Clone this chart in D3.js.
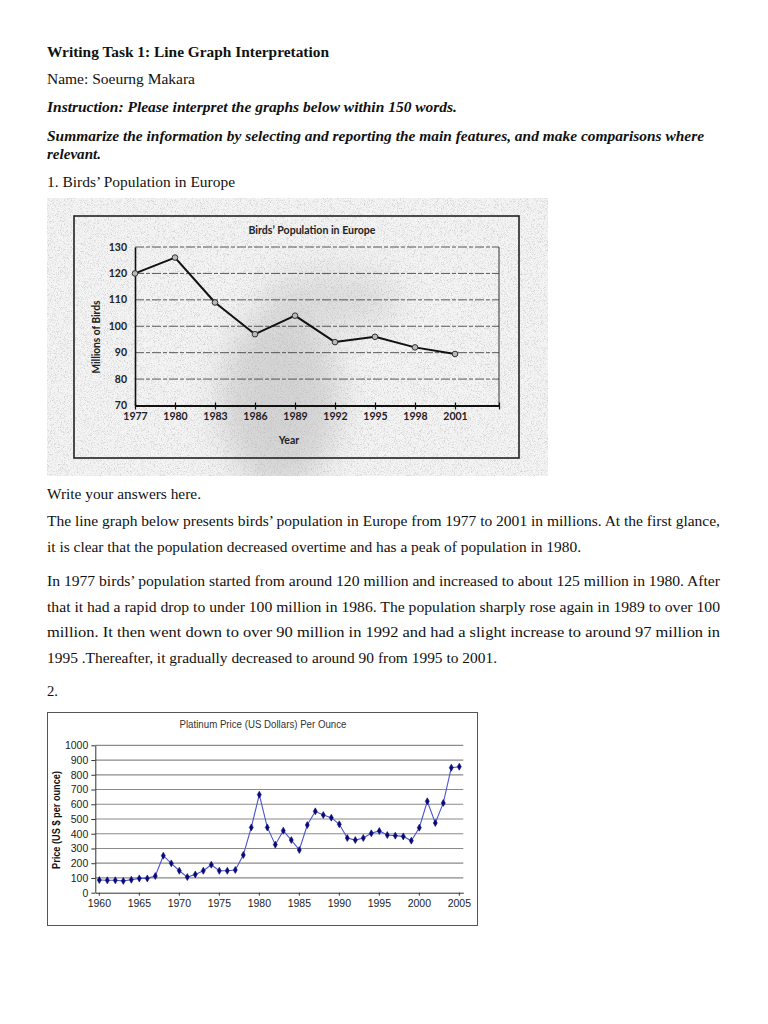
<!DOCTYPE html>
<html>
<head>
<meta charset="utf-8">
<script src="https://cdn.jsdelivr.net/npm/d3@7"></script>
<style>
  html, body { margin: 0; padding: 0; background: #fff; }
  svg { display: block; }
</style>
</head>
<body>
<div id="page"></div>
<script>
// chart 1 : birds
const birdYears  = [ 1977, 1980, 1983, 1986, 1989, 1992, 1995, 1998, 2001 ];
const birdValues = [ 120, 126, 109, 97, 104, 94, 96, 92, 89.5 ];
const birdTicks  = [ 70, 80, 90, 100, 110, 120, 130 ];

// chart 2 : platinum
const platYears = [ 1960, 1961, 1962, 1963, 1964, 1965, 1966, 1967, 1968, 1969,
                    1970, 1971, 1972, 1973, 1974, 1975, 1976, 1977, 1978, 1979,
                    1980, 1981, 1982, 1983, 1984, 1985, 1986, 1987, 1988, 1989,
                    1990, 1991, 1992, 1993, 1994, 1995, 1996, 1997, 1998, 1999,
                    2000, 2001, 2002, 2003, 2004, 2005 ];
const platPrices = [ 86, 84, 84, 80, 88, 97, 97, 113, 251, 199,
                     149, 106, 124, 149, 190, 149, 149, 154, 256, 443,
                     665, 443, 326, 421, 357, 290, 459, 552, 527, 509,
                     464, 371, 357, 371, 403, 419, 391, 387, 382, 353,
                     441, 620, 473, 609, 848, 855 ];
const platTicks  = [ 0, 100, 200, 300, 400, 500, 600, 700, 800, 900, 1000 ];
const platLabels = [ 1960, 1965, 1970, 1975, 1980, 1985, 1990, 1995, 2000, 2005 ];

const width = 768, height = 1024;

const svg = d3.select( "#page" )
  .append( "svg" )
    .attr( "width", width )
    .attr( "height", height )
    .attr( "viewBox", `0 0 ${ width } ${ height }` );

svg.append( "rect" ).attr( "width", width ).attr( "height", height ).attr( "fill", "#fff" );

// ---- document text ----
const serif = "'Liberation Serif', 'Times New Roman', serif";
const lines = [
  { t: "Writing Task 1: Line Graph Interpretation", y: 57, w: 282, b: true },
  { t: "Name: Soeurng Makara", y: 84, w: 148 },
  { t: "Instruction: Please interpret the graphs below within 150 words.", y: 112, w: 410, b: true, i: true },
  { t: "Summarize the information by selecting and reporting the main features, and make comparisons where", y: 141, w: 657, b: true, i: true },
  { t: "relevant.", y: 159, w: 54, b: true, i: true },
  { t: "1. Birds\u2019 Population in Europe", y: 187, w: 188 },
  { t: "Write your answers here.", y: 499, w: 154 },
  { t: "The line graph below presents birds\u2019 population in Europe from 1977 to 2001 in millions. At the first glance,", y: 526, w: 673 },
  { t: "it is clear that the population decreased overtime and has a peak of population in 1980.", y: 552, w: 534 },
  { t: "In 1977 birds\u2019 population started from around 120 million and increased to about 125 million in 1980. After", y: 586, w: 673 },
  { t: "that it had a rapid drop to under 100 million in 1986. The population sharply rose again in 1989 to over 100", y: 612, w: 673 },
  { t: "million. It then went down to over 90 million in 1992 and had a slight increase to around 97 million in", y: 637, w: 673 },
  { t: "1995 .Thereafter, it gradually decreased to around 90 from 1995 to 2001.", y: 663, w: 450 },
  { t: "2.", y: 696, w: 11 }
];

svg.append( "g" )
  .selectAll( "text" )
  .data( lines )
  .join( "text" )
    .attr( "x", 47 )
    .attr( "y", d => d.y )
    .attr( "font-family", serif )
    .attr( "font-size", 15.5 )
    .attr( "font-weight", d => d.b ? "bold" : "normal" )
    .attr( "font-style", d => d.i ? "italic" : "normal" )
    .attr( "fill", "#111" )
    .attr( "textLength", d => d.w )
    .attr( "lengthAdjust", "spacingAndGlyphs" )
    .text( d => d.t );

// ---- chart 1: scanned look ----
const defs = svg.append( "defs" );
const grain = defs.append( "filter" )
  .attr( "id", "grain" ).attr( "x", 0 ).attr( "y", 0 ).attr( "width", "100%" ).attr( "height", "100%" );
grain.append( "feTurbulence" )
  .attr( "type", "fractalNoise" ).attr( "baseFrequency", 1.3 ).attr( "numOctaves", 2 ).attr( "seed", 4 );
grain.append( "feColorMatrix" )
  .attr( "type", "matrix" )
  .attr( "values", "0 0 0 0 0.4  0 0 0 0 0.4  0 0 0 0 0.4  0 0 0 2.4 -1.15" );

defs.append( "filter" ).attr( "id", "smudge" )
  .attr( "x", "-50%" ).attr( "y", "-50%" ).attr( "width", "200%" ).attr( "height", "200%" )
  .append( "feGaussianBlur" ).attr( "stdDeviation", 16 );

defs.append( "clipPath" ).attr( "id", "scanclip" )
  .append( "rect" ).attr( "x", 47 ).attr( "y", 198 ).attr( "width", 501 ).attr( "height", 278 );

const scan = svg.append( "g" ).attr( "clip-path", "url(#scanclip)" );
scan.append( "rect" )
  .attr( "x", 47 ).attr( "y", 198 ).attr( "width", 501 ).attr( "height", 278 )
  .attr( "fill", "#f4f4f4" );
scan.append( "ellipse" )
  .attr( "cx", 280 ).attr( "cy", 400 ).attr( "rx", 60 ).attr( "ry", 90 )
  .attr( "fill", "#b8b8b8" ).attr( "opacity", 0.5 ).attr( "filter", "url(#smudge)" );
scan.append( "ellipse" )
  .attr( "cx", 330 ).attr( "cy", 300 ).attr( "rx", 70 ).attr( "ry", 30 )
  .attr( "fill", "#c4c4c4" ).attr( "opacity", 0.45 ).attr( "filter", "url(#smudge)" );
scan.append( "rect" )
  .attr( "x", 47 ).attr( "y", 198 ).attr( "width", 501 ).attr( "height", 278 )
  .attr( "filter", "url(#grain)" ).attr( "opacity", 0.6 );

// outer frame of chart 1
svg.append( "rect" )
  .attr( "x", 74 ).attr( "y", 216 ).attr( "width", 445 ).attr( "height", 242 )
  .attr( "fill", "none" ).attr( "stroke", "#222" ).attr( "stroke-width", 1.6 );

const c1 = { left: 135, right: 499, top: 247, bottom: 405.5 };
const sans1 = "Lato, 'Open Sans', sans-serif";

const x1 = d3.scaleLinear()
  .domain( [ 1977, 2004.3 ] )
  .range( [ c1.left, c1.right ] );

const y1 = d3.scaleLinear()
  .domain( [ 70, 130 ] )
  .range( [ c1.bottom, c1.top ] );

const g1 = svg.append( "g" ).attr( "class", "birds" );

// gridlines
g1.append( "g" )
  .selectAll( "line" )
  .data( birdTicks.filter( d => d > 70 ) )
  .join( "line" )
    .attr( "x1", c1.left ).attr( "x2", c1.right )
    .attr( "y1", d => y1( d ) ).attr( "y2", d => y1( d ) )
    .attr( "stroke", "#333" ).attr( "stroke-width", 1 )
    .attr( "stroke-dasharray", "9,2,4,2" ).attr( "opacity", 0.8 );

// plot frame (right)
g1.append( "line" )
  .attr( "x1", c1.right ).attr( "x2", c1.right ).attr( "y1", c1.top ).attr( "y2", c1.bottom )
  .attr( "stroke", "#333" ).attr( "stroke-width", 1 );

const yAxis1 = d3.axisLeft( y1 ).tickValues( birdTicks ).tickSize( 0 ).tickPadding( 8 );
g1.append( "g" )
  .attr( "transform", `translate( ${ c1.left }, 0 )` )
  .call( yAxis1 )
  .call( g => g.select( ".domain" ).attr( "stroke", "#111" ).attr( "stroke-width", 1.6 ) )
  .selectAll( "text" )
    .attr( "font-family", sans1 ).attr( "font-size", 10.5 ).attr( "font-weight", "bold" ).attr( "fill", "#222" )
    .attr( "dy", "0.3em" );

const xAxis1 = d3.axisBottom( x1 ).tickValues( birdYears.concat( [ 2004.3 ] ) ).tickSize( 4 ).tickSizeOuter( 0 ).tickPadding( 3 )
  .tickFormat( d => d > 2002 ? "" : d );
g1.append( "g" )
  .attr( "transform", `translate( 0, ${ c1.bottom } )` )
  .call( xAxis1 )
  .call( g => g.select( ".domain" ).attr( "stroke", "#111" ).attr( "stroke-width", 1.8 ) )
  .call( g => g.selectAll( ".tick line" ).attr( "stroke", "#111" ).attr( "stroke-width", 1.2 ).attr( "y1", -3 ) )
  .selectAll( "text" )
    .attr( "font-family", sans1 ).attr( "font-size", 10.5 ).attr( "font-weight", "bold" ).attr( "fill", "#222" );

// line + markers
const line1 = d3.line()
  .x( ( d, i ) => x1( birdYears[ i ] ) )
  .y( d => y1( d ) );

g1.append( "path" )
  .datum( birdValues )
  .attr( "d", line1 )
  .attr( "fill", "none" ).attr( "stroke", "#111" ).attr( "stroke-width", 2 )
  .attr( "stroke-linejoin", "round" );

g1.append( "g" )
  .selectAll( "circle" )
  .data( birdValues )
  .join( "circle" )
    .attr( "cx", ( d, i ) => x1( birdYears[ i ] ) )
    .attr( "cy", d => y1( d ) )
    .attr( "r", 2.8 )
    .attr( "fill", "#bbb" ).attr( "stroke", "#333" ).attr( "stroke-width", 1 );

g1.append( "text" )
  .attr( "x", 312 ).attr( "y", 234 )
  .attr( "text-anchor", "middle" )
  .attr( "font-family", sans1 ).attr( "font-size", 10.5 ).attr( "font-weight", "bold" ).attr( "fill", "#222" )
  .attr( "textLength", 127 ).attr( "lengthAdjust", "spacingAndGlyphs" )
  .text( "Birds\u2019 Population in Europe" );

g1.append( "text" )
  .attr( "transform", "translate( 100, 337 ) rotate( -90 )" )
  .attr( "text-anchor", "middle" )
  .attr( "font-family", sans1 ).attr( "font-size", 10.5 ).attr( "font-weight", "bold" ).attr( "fill", "#222" )
  .attr( "textLength", 73 ).attr( "lengthAdjust", "spacingAndGlyphs" )
  .text( "Millions of Birds" );

g1.append( "text" )
  .attr( "x", 289 ).attr( "y", 444 )
  .attr( "text-anchor", "middle" )
  .attr( "font-family", sans1 ).attr( "font-size", 10.5 ).attr( "font-weight", "bold" ).attr( "fill", "#222" )
  .text( "Year" );

// ---- chart 2: platinum ----
const c2 = { left: 95.3, right: 463.3, top: 745.3, bottom: 892.7 };
const sans2 = "'Liberation Sans', Arial, sans-serif";

svg.append( "rect" )
  .attr( "x", 47.5 ).attr( "y", 712.5 ).attr( "width", 430 ).attr( "height", 213 )
  .attr( "fill", "#fff" ).attr( "stroke", "#555" ).attr( "stroke-width", 1 );

const x2 = d3.scaleBand()
  .domain( platYears )
  .range( [ c2.left, c2.right ] );

const y2 = d3.scaleLinear()
  .domain( [ 0, 1000 ] )
  .range( [ c2.bottom, c2.top ] );

const g2 = svg.append( "g" ).attr( "class", "platinum" );

g2.append( "g" )
  .selectAll( "line" )
  .data( platTicks.filter( d => d > 0 ) )
  .join( "line" )
    .attr( "x1", c2.left ).attr( "x2", c2.right )
    .attr( "y1", d => y2( d ) ).attr( "y2", d => y2( d ) )
    .attr( "stroke", "#8a8a8a" ).attr( "stroke-width", 1.2 );

const yAxis2 = d3.axisLeft( y2 ).tickValues( platTicks ).tickFormat( d3.format( "d" ) )
  .tickSize( 4 ).tickSizeOuter( 0 ).tickPadding( 3 );
g2.append( "g" )
  .attr( "transform", `translate( ${ c2.left }, 0 )` )
  .call( yAxis2 )
  .call( g => g.selectAll( ".domain, .tick line" ).attr( "stroke", "#333" ) )
  .selectAll( "text" )
    .attr( "font-family", sans2 ).attr( "font-size", 10.5 ).attr( "fill", "#222" );

const xAxis2 = d3.axisBottom( x2 ).tickValues( platLabels ).tickSize( 3 ).tickSizeOuter( 0 ).tickPadding( 4 );
g2.append( "g" )
  .attr( "transform", `translate( 0, ${ c2.bottom } )` )
  .call( xAxis2 )
  .call( g => g.selectAll( ".domain, .tick line" ).attr( "stroke", "#333" ) )
  .selectAll( "text" )
    .attr( "font-family", sans2 ).attr( "font-size", 10.5 ).attr( "fill", "#222" );

const cx2 = ( d, i ) => x2( platYears[ i ] ) + x2.bandwidth() / 2;

const line2 = d3.line()
  .x( cx2 )
  .y( d => y2( d ) );

g2.append( "path" )
  .datum( platPrices )
  .attr( "d", line2 )
  .attr( "fill", "none" ).attr( "stroke", "#4b55d0" ).attr( "stroke-width", 1.1 );

g2.append( "g" )
  .selectAll( "path" )
  .data( platPrices )
  .join( "path" )
    .attr( "d", d3.symbol( d3.symbolDiamond, 14 ) )
    .attr( "transform", ( d, i ) => `translate( ${ cx2( d, i ) }, ${ y2( d ) } )` )
    .attr( "fill", "#0b0b78" ).attr( "stroke", "#0b0b78" ).attr( "stroke-width", 0.6 );

g2.append( "text" )
  .attr( "x", 263 ).attr( "y", 728 )
  .attr( "text-anchor", "middle" )
  .attr( "font-family", sans2 ).attr( "font-size", 10 ).attr( "fill", "#333" )
  .attr( "textLength", 167 ).attr( "lengthAdjust", "spacingAndGlyphs" )
  .text( "Platinum Price (US Dollars) Per Ounce" );

g2.append( "text" )
  .attr( "transform", "translate( 60, 820 ) rotate( -90 )" )
  .attr( "text-anchor", "middle" )
  .attr( "font-family", sans2 ).attr( "font-size", 10.5 ).attr( "font-weight", "bold" ).attr( "fill", "#111" )
  .attr( "textLength", 98 ).attr( "lengthAdjust", "spacingAndGlyphs" )
  .text( "Price (US $ per ounce)" );
</script>
</body>
</html>
